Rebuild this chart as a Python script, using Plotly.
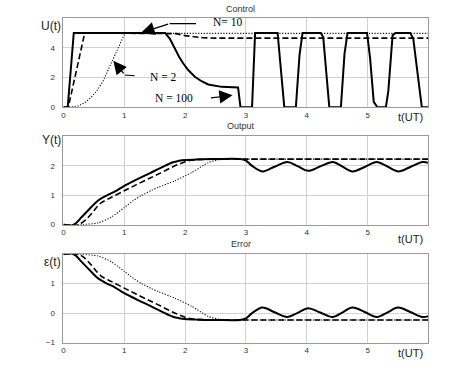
import plotly.graph_objects as go

# ---------------- data ----------------
# Control U(t)
t_u100 = [0, 0.07, 0.17, 1.67, 1.75, 1.83, 1.90, 1.97, 2.05, 2.16, 2.27, 2.38, 2.50, 2.60, 2.87,
          2.91, 3.10, 3.15, 3.52, 3.63, 3.82, 3.88, 3.93, 4.23, 4.27, 4.37, 4.56, 4.62, 4.67,
          4.99, 5.04, 5.10, 5.16, 5.30, 5.34, 5.41, 5.46, 5.70, 5.75, 5.89, 6.0]
u100 = [0, 0, 5, 5, 4.6, 3.95, 3.4, 2.94, 2.5, 2.05, 1.75, 1.53, 1.42, 1.37, 1.33,
        0, 0, 5, 5, 0, 0, 3.5, 5, 5, 4.7, 0, 0, 3.6, 5,
        5, 3.3, 0.36, 0, 0, 1.1, 4.85, 5, 5, 4.6, 0, 0]
t_u10 = [0, 0.08, 0.35, 1.75, 1.85, 2.0, 2.15, 2.3, 2.5, 6.0]
u10 = [0, 0, 5, 5, 4.95, 4.82, 4.72, 4.67, 4.65, 4.65]
t_u2 = [0, 0.05, 0.15, 0.25, 0.35, 0.45, 0.55, 0.65, 0.75, 0.85, 0.95, 1.01, 6.0]
u2 = [0, 0, 0.03, 0.1, 0.3, 0.65, 1.1, 1.75, 2.65, 3.65, 4.55, 4.97, 4.97]

# Output Y(t) and Error e(t)
t_y100 = [0, 0.17, 0.3, 0.45, 0.57, 0.7, 0.85, 1.0, 1.2, 1.4, 1.6, 1.8, 1.9, 2.0, 2.2, 2.5, 2.9,
          3.0, 3.1, 3.27, 3.47, 3.68, 3.85, 4.02, 4.22, 4.43, 4.58, 4.75, 4.95, 5.15, 5.32,
          5.5, 5.7, 5.9, 6.0]
y100 = [0, 0, 0.26, 0.58, 0.82, 0.98, 1.13, 1.32, 1.53, 1.73, 1.93, 2.12, 2.17, 2.2, 2.22, 2.23,
        2.23, 2.18, 2.0, 1.81, 1.97, 2.13, 1.99, 1.83, 1.98, 2.13, 1.98, 1.81, 1.96, 2.13, 1.98,
        1.81, 1.96, 2.13, 2.1]
e100 = [2, 2, 1.74, 1.42, 1.18, 1.02, 0.87, 0.68, 0.47, 0.27, 0.07, -0.12, -0.17, -0.2, -0.22,
        -0.23, -0.23, -0.18, 0.0, 0.19, 0.03, -0.13, 0.01, 0.17, 0.02, -0.13, 0.02, 0.19, 0.04,
        -0.13, 0.02, 0.19, 0.04, -0.13, -0.1]
t_y10 = [0, 0.25, 0.36, 0.46, 0.55, 0.63, 0.79, 1.0, 1.2, 1.4, 1.6, 1.8, 2.0, 2.1, 2.3, 2.5, 3.0, 6.0]
y10 = [0, 0, 0.15, 0.37, 0.6, 0.76, 0.93, 1.15, 1.36, 1.56, 1.76, 1.97, 2.14, 2.19, 2.22, 2.23, 2.23, 2.23]
e10 = [2, 2, 1.85, 1.63, 1.4, 1.24, 1.07, 0.85, 0.64, 0.44, 0.24, 0.03, -0.14, -0.19, -0.22, -0.23, -0.23, -0.23]
t_y2 = [0, 0.3, 0.57, 0.79, 1.0, 1.15, 1.28, 1.45, 1.56, 1.83, 2.11, 2.38, 2.54, 2.7, 3.0, 6.0]
y2 = [0, 0, 0.06, 0.26, 0.58, 0.82, 0.99, 1.17, 1.27, 1.49, 1.77, 2.11, 2.2, 2.23, 2.23, 2.23]
e2 = [2, 2, 1.94, 1.74, 1.42, 1.18, 1.01, 0.83, 0.73, 0.51, 0.23, -0.11, -0.2, -0.23, -0.23, -0.23]

x_ticks = [0, 1, 2, 3, 4, 5]
u_ticks = [0, 2, 4]
y_ticks = [0, 1, 2]
e_ticks = [-1, 0, 1]
panel_titles = ["Control", "Output", "Error"]
y_labels = ["U(t)", "Y(t)", "\u03b5(t)"]

# ---------------- figure ----------------
W, H = 474, 371
fig = go.Figure()

solid = dict(color="black", width=2)
dashed = dict(color="black", width=1.6, dash="6px,3px")
dotted = dict(color="#111", width=1.1, dash="1.2px,1.6px")

def add(tx, vy, line, ax, shape="linear", smooth=1.0):
    ln = dict(line)
    ln["shape"] = shape
    if shape == "spline":
        ln["smoothing"] = smooth
    fig.add_trace(go.Scatter(x=tx, y=vy, mode="lines", line=ln,
                             xaxis="x" + ax, yaxis="y" + ax, showlegend=False,
                             hoverinfo="skip"))

add(t_u2, u2, dotted, "")
add(t_u10, u10, dashed, "")
add(t_u100, u100, solid, "")
add(t_y2, y2, dotted, "2", "spline", 0.6)
add(t_y10, y10, dashed, "2", "spline", 0.6)
add(t_y100, y100, solid, "2", "spline", 1.0)
add(t_y2, e2, dotted, "3", "spline", 0.6)
add(t_y10, e10, dashed, "3", "spline", 0.6)
add(t_y100, e100, solid, "3", "spline", 1.0)

x0, x1 = 61.7 / W, 428.3 / W
doms = [(1 - 108.7 / H, 1 - 18.3 / H), (1 - 227.7 / H, 1 - 138.3 / H), (1 - 347.3 / H, 1 - 257.7 / H)]
ranges = [[0, 6], [0, 3], [-1, 2]]
yticks = [u_ticks, y_ticks, e_ticks]

axis_common = dict(showline=True, mirror=True, linecolor="#9a9a9a", linewidth=1,
                   showgrid=True, gridcolor="#d2d2d2", gridwidth=1, zeroline=False,
                   ticks="", tickfont=dict(family="Liberation Sans, Arial", size=8, color="#333"),
                   fixedrange=True)

layout = dict(width=W, height=H, margin=dict(l=0, r=0, t=0, b=0),
              paper_bgcolor="white", plot_bgcolor="white", showlegend=False)
for i in range(3):
    sfx = "" if i == 0 else str(i + 1)
    layout["xaxis" + sfx] = dict(axis_common, domain=[x0, x1], range=[0, 6], tickvals=x_ticks,
                                 anchor="y" + sfx, ticklabelstandoff=0)
    layout["yaxis" + sfx] = dict(axis_common, domain=list(doms[i]), range=ranges[i],
                                 tickvals=yticks[i], anchor="x" + sfx, ticklabelstandoff=6)
fig.update_layout(**layout)

ann = []
title_y = [8.8, 127.5, 247]
lab_y = [26, 142, 266]
tut_y = [119, 242, 358]
for i in range(3):
    ann.append(dict(text=panel_titles[i], x=240 / W, y=1 - title_y[i] / H, xref="paper", yref="paper",
                    showarrow=False, xanchor="center", yanchor="middle",
                    font=dict(family="Liberation Sans, Arial", size=9, color="#333")))
    ann.append(dict(text=y_labels[i], x=61 / W, y=1 - lab_y[i] / H, xref="paper", yref="paper",
                    showarrow=False, xanchor="right", yanchor="middle",
                    font=dict(family="Liberation Sans, Arial", size=12, color="#222")))
    ann.append(dict(text="t(UT)", x=410 / W, y=1 - tut_y[i] / H, xref="paper", yref="paper",
                    showarrow=False, xanchor="center", yanchor="middle",
                    font=dict(family="Liberation Sans, Arial", size=11, color="#222")))

serif = dict(family="Liberation Serif, Times New Roman", size=11.5, color="black")
arrow = dict(showarrow=True, arrowhead=2, arrowsize=2.2, arrowwidth=1.2, arrowcolor="black",
             xref="x", yref="y", axref="x", ayref="y", text="")
ann += [
    dict(text="N= 10", x=2.7, y=5.72, xref="x", yref="y", showarrow=False, font=serif),
    dict(text="N = 2", x=1.65, y=2.04, xref="x", yref="y", showarrow=False, font=serif),
    dict(text="N = 100", x=1.81, y=0.64, xref="x", yref="y", showarrow=False, font=serif),
    dict(arrow, x=1.28, y=5.02, ax=1.745, ay=5.62),
    dict(arrow, x=0.82, y=3.12, ax=1.01, ay=2.17),
    dict(arrow, x=2.78, y=0.8, ax=2.4, ay=0.62),
]
fig.update_layout(annotations=ann)

fig.update_layout(shapes=[
    dict(type="line", x0=1.745, y0=5.62, x1=2.18, y1=5.62, xref="x", yref="y",
         line=dict(color="black", width=1.2)),
    dict(type="line", x0=1.01, y0=2.17, x1=1.17, y1=2.12, xref="x", yref="y",
         line=dict(color="black", width=1.2)),
])

fig.write_html("out.html", config={"displayModeBar": False},
               post_script="document.body.style.margin='0';document.body.style.overflow='hidden';")
